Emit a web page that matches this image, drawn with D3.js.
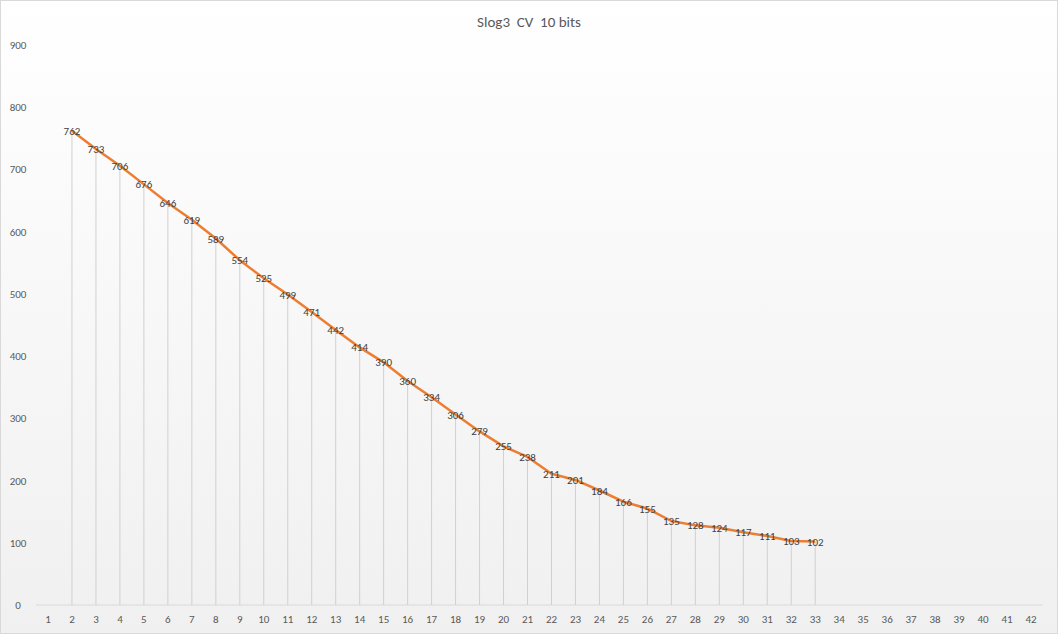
<!DOCTYPE html>
<html><head><meta charset="utf-8">
<script src="https://cdn.jsdelivr.net/npm/d3@7"></script>
<style>body{margin:0;background:#fff}</style></head>
<body><svg id="c" width="1058" height="634"></svg>
<script>
const categories = d3.range(1, 43);
const seriesX = d3.range(2, 34);
const seriesValues = [762,733,706,676,646,619,589,554,525,499,471,442,414,390,360,334,306,279,255,238,211,201,184,166,155,135,128,124,117,111,103,102];
const yTicks = [0,100,200,300,400,500,600,700,800,900];
const title = "Slog3  CV  10 bits";

const svg = d3.select("#c");
const defs = svg.append("defs");
const g = defs.append("linearGradient").attr("id","bg").attr("x1",0).attr("y1",0).attr("x2",0).attr("y2",1);
g.append("stop").attr("offset","0%").attr("stop-color","#ffffff");
g.append("stop").attr("offset","100%").attr("stop-color","#f0f0f0");
svg.append("rect").attr("x",0.5).attr("y",0.5).attr("width",1057).attr("height",633).attr("fill","url(#bg)").attr("stroke","#d9d9d9");

const x = d3.scaleBand().domain(categories).range([36,1043]);
const y = d3.scaleLinear().domain([0,900]).range([605,45]);
const cx = d => x(d) + x.bandwidth()/2;
const font = "Calibri, 'Liberation Sans', 'Open Sans', sans-serif";

svg.append("text").attr("x",529).attr("y",27).attr("text-anchor","middle").style("white-space","pre")
  .attr("font-family",font).attr("font-size",15).attr("fill","#595959").text(title);

svg.selectAll(".yl").data(yTicks).enter().append("text")
  .attr("x",18).attr("y",d=>y(d)+4).attr("text-anchor","middle")
  .attr("font-family",font).attr("font-size",11).attr("fill","#595959").text(d=>d);

svg.append("line").attr("x1",36).attr("x2",1043).attr("y1",605).attr("y2",605).attr("stroke","#d9d9d9");
svg.selectAll(".xl").data(categories).enter().append("text")
  .attr("x",d=>cx(d)).attr("y",623).attr("text-anchor","middle")
  .attr("font-family",font).attr("font-size",11).attr("fill","#595959").text(d=>d);

const pts = seriesX.map((c,i)=>({c, v:seriesValues[i]}));
svg.selectAll(".drop").data(pts).enter().append("line")
  .attr("x1",d=>cx(d.c)).attr("x2",d=>cx(d.c)).attr("y1",d=>y(d.v)).attr("y2",605)
  .attr("stroke","#d0d0d0").attr("stroke-width",1);

svg.append("path").datum(pts)
  .attr("d", d3.line().x(d=>cx(d.c)).y(d=>y(d.v)))
  .attr("fill","none").attr("stroke","#ed7d31").attr("stroke-width",2.5).attr("stroke-linejoin","round");

svg.selectAll(".dl").data(pts).enter().append("text")
  .attr("x",d=>cx(d.c)).attr("y",d=>y(d.v)+4).attr("text-anchor","middle")
  .attr("font-family",font).attr("font-size",11).attr("fill","#404040").text(d=>d.v);
</script></body></html>
